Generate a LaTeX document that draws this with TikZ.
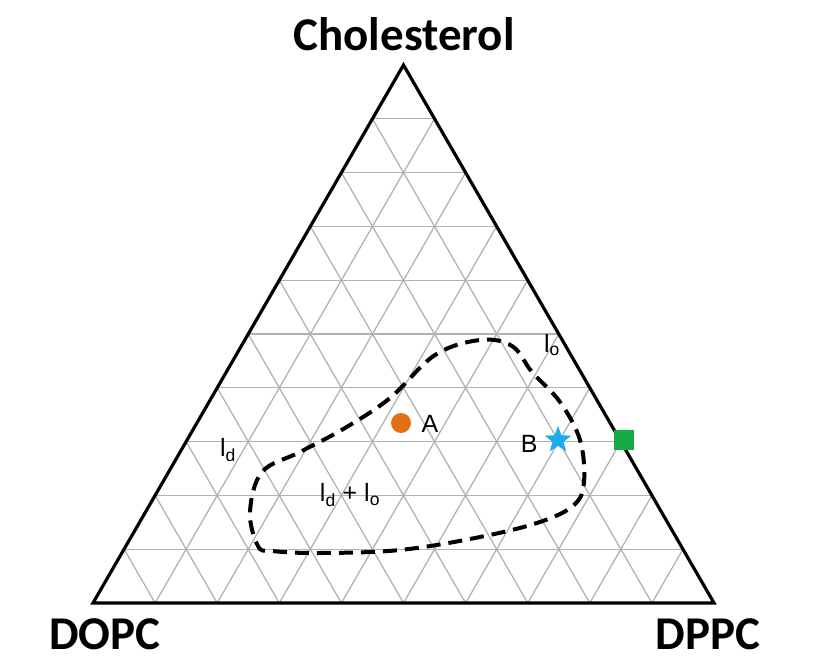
\documentclass[tikz,border=0pt]{standalone}
\usepackage{fontspec}
\setmainfont{Liberation Sans}
\newfontfamily\titlefont{Carlito}
\usetikzlibrary{shapes.geometric,calc}
\begin{document}
\begin{tikzpicture}[x=1pt,y=-1pt,
 grid/.style={gray!60,line width=1.3pt},
 title/.style={font=\titlefont\bfseries\fontsize{47}{52}\selectfont},
 lbl/.style={font=\fontsize{25}{28}\selectfont}]
\useasboundingbox (0,0) rectangle (818,661);
\coordinate (A) at (93,603);
\coordinate (B) at (714,603);
\coordinate (C) at (403.5,65);
\foreach \i in {1,...,9}{
 \pgfmathsetmacro\f{\i/10}
 \pgfmathsetmacro\g{1-\i/10}
 \draw[grid] ($(A)!\f!(C)$) -- ($(B)!\f!(C)$);
 \draw[grid] ($(A)!\f!(B)$) -- ($(B)!\g!(C)$);
 \draw[grid] ($(A)!\f!(B)$) -- ($(A)!\f!(C)$);
}
\draw[line width=3.2pt,line join=miter] (A) -- (B) -- (C) -- cycle;
\draw[line width=4pt,dash pattern=on 14pt off 8pt] plot[smooth cycle,tension=0.6] coordinates{
(258,546) (250,512) (262,472) (300,452) (345,428) (390,398) (435,355) (480,340) (512,346) (532,372) (560,402) (580,440) (584,482) (574,505) (540,522) (480,537) (400,550) (320,553) (272,551)};
\node[title] (tc) at (404,34) {Cholesterol};
\node[title] (tl) at (105,634) {DOPC};
\node[title] (tr) at (708,634) {DPPC};
\node[lbl] (lo) at (552,345) {l\textsubscript{o}};
\node[lbl] (ld) at (228,450) {l\textsubscript{d}};
\node[lbl] (ldlo) at (350,495) {l\textsubscript{d} + l\textsubscript{o}};
\node[circle,fill={rgb,255:red,230;green,110;blue,20},minimum size=20pt,inner sep=0] (pa) at (401,423) {};
\node[lbl,anchor=west] (la) at (418,424) {A};
\node[star,star points=5,star point ratio=2.4,fill={rgb,255:red,30;green,170;blue,240},minimum size=28pt,inner sep=0] (pb) at (558,440) {};
\node[lbl,anchor=east] (lb) at (541,444) {B};
\node[rectangle,fill={rgb,255:red,20;green,170;blue,70},minimum size=20pt,inner sep=0] (pc) at (624,440) {};
\end{tikzpicture}
\end{document}
